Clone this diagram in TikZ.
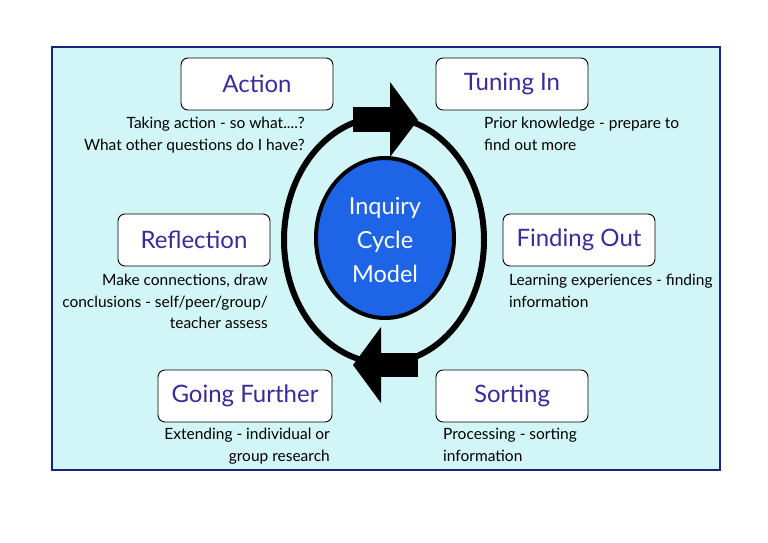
\documentclass[tikz,border=0pt]{standalone}
\usepackage{fontspec}
\setmainfont{Lato}
\usetikzlibrary{shapes.geometric}
\definecolor{bg}{HTML}{D2F6F8}
\definecolor{frame}{HTML}{1A237E}
\definecolor{ttl}{HTML}{3A2A9A}
\definecolor{core}{HTML}{1E64E6}
\begin{document}
\begin{tikzpicture}[x=1pt,y=-1pt,
  box/.style={draw=black,line width=0.9pt,fill=white,rounded corners=7pt,minimum width=152pt,minimum height=52pt,text=ttl,font=\fontsize{24}{26}\selectfont},
  dl/.style={font=\fontsize{15.5}{21.5}\selectfont,align=left,anchor=north west,inner sep=0pt},
  dr/.style={font=\fontsize{15.5}{21.5}\selectfont,align=right,anchor=north east,inner sep=0pt}]
\useasboundingbox (0,0) rectangle (768,543);
\fill[white] (0,0) rectangle (768,543);
\draw[frame,line width=2.5pt,fill=bg] (52,47) rectangle (720,470);
\node[box] (action) at (257,84) {Action};
\node[box] (tuning) at (512,84) {Tuning In};
\node[box] (refl) at (194,240) {Reflection};
\node[box] (find) at (579,240) {Finding Out};
\node[box,minimum width=174pt] (further) at (245,396) {Going Further};
\node[box] (sort) at (512,396) {Sorting};
\node[dr] (d1) at (305,117) {Taking action - so what....?\\What other questions do I have?};
\node[dl] (d2) at (484,117) {Prior knowledge - prepare to\\find out more};
\node[dr] (d3) at (268,274) {Make connections, draw\\conclusions - self/peer/group/\\teacher assess};
\node[dl] (d4) at (509,274) {Learning experiences - finding\\information};
\node[dr] (d5) at (330,428) {Extending - individual or\\group research};
\node[dl] (d6) at (443,428) {Processing - sorting\\information};
\draw[line width=6pt] (384,240) ellipse [x radius=100, y radius=123];
\fill (353,107) rectangle (391,132);
\fill (390,82) -- (418,120) -- (390,157) -- cycle;
\fill (378,353) rectangle (418,377);
\fill (381,327) -- (353,365) -- (381,403) -- cycle;
\node[draw=black,line width=4pt,fill=core,ellipse,minimum width=138pt,minimum height=160pt,inner sep=0pt] (core) at (385,238) {};
\node[text=white,align=center,font=\fontsize{23.5}{34}\selectfont] (ct) at (385,240) {Inquiry\\Cycle\\Model};
\end{tikzpicture}
\end{document}
